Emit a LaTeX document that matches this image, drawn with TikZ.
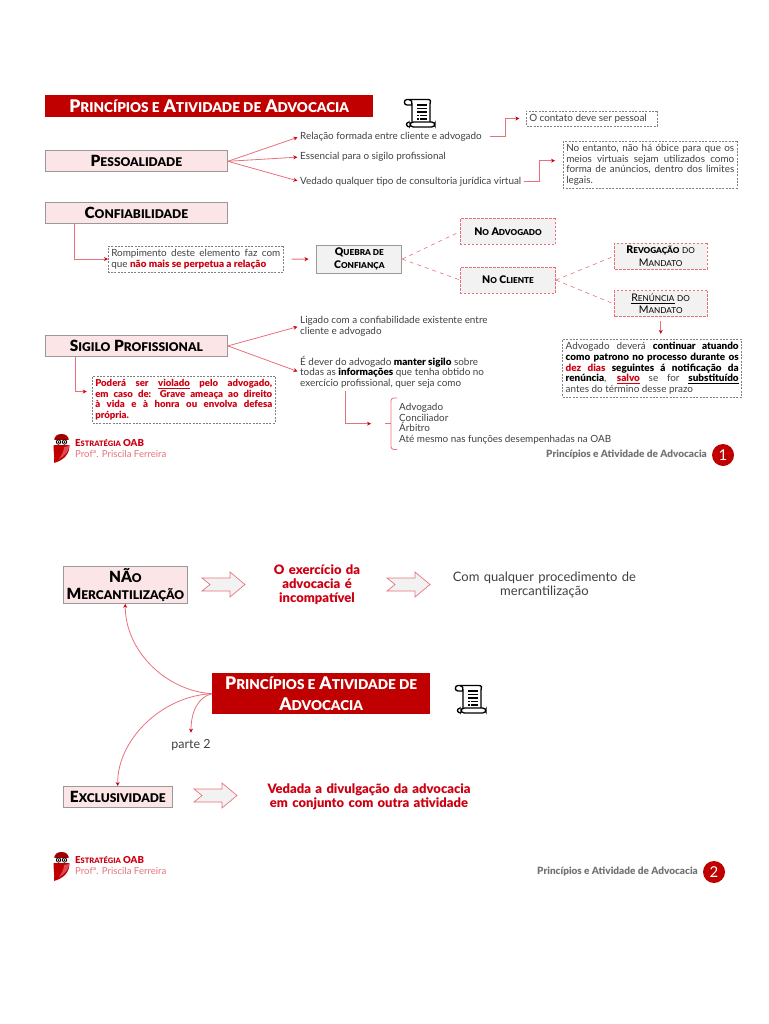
\documentclass[tikz,border=0pt]{standalone}
\usepackage{fontspec}
\usepackage{xcolor}
\setmainfont{Lato}[BoldFont={Lato Black}]
\usetikzlibrary{arrows.meta, positioning}

\definecolor{oabred}{HTML}{C00000}
\definecolor{textred}{HTML}{CC0011}
\definecolor{softred}{HTML}{E8707A}
\definecolor{pinkfill}{HTML}{FBE5E6}
\definecolor{greyfill}{HTML}{F2F2F2}
\definecolor{bodygrey}{HTML}{404040}
\newcommand{\low}[1]{\scalebox{0.78}{#1}}
\newcommand{\fsbody}{\fontsize{9.9}{10.6}\selectfont\color{bodygrey}}

\begin{document}
\begin{tikzpicture}[
    x=1pt, y=-1pt,
    scale=0.75,
    transform shape,
    base/.style={align=center, inner sep=0pt},
    titlebar/.style={base, fill=oabred, text=white, font=\bfseries\fontsize{17.4}{20.5}\selectfont},
    headbox/.style={base, draw=black!40, line width=0.8pt, fill=pinkfill, minimum height=21pt, font=\bfseries\fontsize{15.4}{16.5}\selectfont},
    greybox/.style={base, draw=black!40, line width=0.7pt, fill=greyfill, minimum width=85pt, minimum height=28pt, font=\bfseries\fontsize{10.5}{13}\selectfont},
    subbox/.style={base, draw=softred, dash pattern=on 2pt off 1pt, line width=0.6pt, fill=greyfill, minimum width=95pt, minimum height=26pt, font=\fontsize{10.5}{12.5}\selectfont},
    notebox/.style={draw=black!50, dash pattern=on 1.5pt off 1pt, line width=0.5pt, inner sep=3pt, align=justify, font=\fsbody},
    plain/.style={inner sep=0pt, align=left, font=\fsbody},
    redtext/.style={inner sep=0pt, align=center, text=textred, font=\bfseries\fontsize{13}{14}\selectfont},
    brand/.style={inner sep=0pt, anchor=west, text=textred, font=\bfseries\fontsize{9.6}{11}\selectfont},
    footer/.style={inner sep=0pt, anchor=east, text=black!55, font=\bfseries\fontsize{10}{11}\selectfont},
    badge/.style={circle, fill=oabred, text=white, inner sep=0pt, minimum size=22pt, font=\fontsize{15}{15}\selectfont},
    link/.style={draw=softred, line width=0.6pt},
    arrow/.style={link, -{Stealth[length=3pt, width=3pt, color=textred]}},
    dashlink/.style={draw=softred, line width=0.45pt, dashed},
    pics/blockarrow/.style={code={
        \draw [softred, line width=0.5pt, fill=greyfill] (0,6) -- (28,6) -- (28,0) -- (43,12.5) -- (28,25) -- (28,19) -- (0,19) -- (8,12.5) -- cycle;
    }},
    pics/scrollicon/.style={code={
        \draw [black, line width=1pt, line join=round, fill=white] (8,6) -- (8,24) (3,0.5) -- (24,0.5) .. controls (27,0.5) and (27,3) .. (26,5) .. controls (25,7) and (27,9) .. (26,12) -- (26,23);
        \draw [black, line width=1pt] (3,0.5) .. controls (-0.5,0.5) and (-0.5,6) .. (3,6) -- (8,6) (5,0.5) .. controls (8,0.5) and (8,3) .. (8,6);
        \draw [black, line width=1pt, rounded corners=2.5pt, fill=white] (6,23) rectangle (31,28);
        \draw [black, line width=1pt] (5,23) .. controls (1,24) and (2,28) .. (6,28);
        \draw [black, line width=1pt] (13,6) -- (23,6) (13,9.5) -- (23,9.5) (13,13) -- (23,13) (16,16.5) -- (23,16.5) (13,16.5) -- (14.5,16.5) (16,20) -- (23,20) (13,20) -- (14.5,20);
    }},
    pics/owlicon/.style={code={
        \fill [oabred] (0.5,10) -- (16.5,10) .. controls (17,20) and (11,26) .. (1,29) .. controls (2,22) and (0,16) .. (0.5,10) -- cycle;
        \fill [textred!70!white] (11,13) .. controls (14,13) and (15,12) .. (16.5,11) .. controls (16,17) and (12,22) .. (6,25) .. controls (9,21) and (11,17) .. (11,13) -- cycle;
        \fill [oabred!85!black] (1,8) .. controls (1,2) and (4,0) .. (8.5,0) .. controls (13,0) and (16,2) .. (16,8) -- cycle;
        \fill [white] (0,5.5) rectangle (17,10.5);
        \draw [black, fill=white, line width=0.6pt] (5.5,8) circle (2.2) (11.5,8) circle (2.2);
        \fill [black] (5.5,8) circle (1) (11.5,8) circle (1);
    }}
]
    \useasboundingbox (0,0) rectangle (768,1024);

    % primeira pagina
    \node [titlebar, minimum width=328pt, minimum height=22pt, anchor=north west] (title) at (45,95) {P\low{RINCÍPIOS E} A\low{TIVIDADE DE} A\low{DVOCACIA}};
    \pic at (404,99) {scrollicon};

    \node [headbox, minimum width=182pt, below=33pt of title.south west, anchor=north west] (pess) {P\low{ESSOALIDADE}};
    \node [headbox, minimum width=182pt, below=30pt of pess] (conf) {C\low{ONFIABILIDADE}};
    \node [headbox, minimum width=182pt, below=111pt of conf] (sigilo) {S\low{IGILO} P\low{ROFISSIONAL}};

    \node [plain, anchor=west] (rel) at (300,136.5) {Relação formada entre cliente e advogado};
    \node [plain, anchor=west] (ess) at (300,157) {Essencial para o sigilo profissional};
    \node [plain, anchor=west] (ved) at (300,181.5) {Vedado qualquer tipo de consultoria jurídica virtual};
    \node [notebox, text width=125pt, minimum height=15pt, anchor=west] (contato) at (526,118.5) {O contato deve ser pessoal};
    \node [notebox, text width=168pt, anchor=north west] (virtual) at (563,141) {No entanto, não há óbice para que os\linebreak meios virtuais sejam utilizados como\linebreak forma de anúncios, dentro dos limites\linebreak legais.};

    \node [notebox, text width=169pt, below right=22pt and 63pt of conf.south west] (rompe) {Rompimento deste elemento faz com\linebreak que \textcolor{textred}{\textbf{não mais se perpetua a relação}}};
    \node [greybox, right=33pt of rompe] (quebra) {Q\low{UEBRA DE}\\C\low{ONFIANÇA}};
    \node [subbox, above right=0pt and 58pt of quebra.north east] (noadv) {\textbf{N\low{O} A\low{DVOGADO}}};
    \node [subbox, below=22pt of noadv] (nocli) {\textbf{N\low{O} C\low{LIENTE}}};
    \node [subbox, minimum width=93pt, above right=10.5pt and 58pt of nocli.east] (revog) {\textbf{R\low{EVOGAÇÃO}} \low{DO}\\M\low{ANDATO}};
    \node [subbox, minimum width=93pt, below=21pt of revog] (renun) {\underline{R\low{ENÚNCIA}} \low{DO}\\M\low{ANDATO}};
    \node [notebox, text width=173pt, below=22pt of renun, xshift=-8.5pt] (dever) {Advogado deverá \textbf{\textcolor{black}{continuar atuando}}\linebreak \textbf{\textcolor{black}{como patrono no processo durante os}}\linebreak \textbf{\textcolor{textred}{dez dias} \textcolor{black}{seguintes á notificação da}}\linebreak \textbf{\textcolor{black}{renúncia}}, \textcolor{textred}{\textbf{\underline{salvo}}} se for \textbf{\textcolor{black}{\underline{substituído}}}\linebreak antes do término desse prazo};

    \node [plain, anchor=north west] (ligado) at (300,316) {Ligado com a confiabilidade existente entre\\cliente e advogado};
    \node [plain, anchor=north west] (sigilodever) at (300,356) {É dever do advogado \textbf{\textcolor{black}{manter sigilo}} sobre\\todas as \textbf{\textcolor{black}{informações}} que tenha obtido no\\exercício profissional, quer seja como};
    \node [plain, minimum height=51pt, anchor=north west] (lista) at (399,398) {Advogado\\Conciliador\\Árbitro\\Até mesmo nas funções desempenhadas na OAB};
    \node [notebox, text width=177pt, anchor=north west, text=textred, font=\bfseries\fontsize{9.6}{10.6}\selectfont] (violado) at (92,376) {Poderá ser \underline{violado} pelo advogado,\linebreak em caso de: Grave ameaça ao direito\linebreak à vida e à honra ou envolva defesa\linebreak própria.};

    \draw [arrow, shorten >=2pt] (pess.east) -- (rel.west);
    \draw [arrow, shorten >=2pt] (pess.east) -- (ess.west);
    \draw [arrow, shorten >=2pt] (pess.east) -- (ved.west);
    \draw [arrow, shorten <=6pt, shorten >=5pt] (rel.east) -- ++(23,0) |- (contato.west);
    \draw [arrow, shorten <=2pt, shorten >=6pt] (ved.east) -- ++(18,0) |- ([yshift=4pt]virtual.west);
    \draw [arrow] ([xshift=29pt]conf.south west) |- (rompe.west);
    \draw [arrow, shorten <=6pt, shorten >=6pt] (rompe.east) -- (quebra.west);
    \draw [dashlink] (quebra.east) -- (noadv.west);
    \draw [dashlink] (quebra.east) -- (nocli.west);
    \draw [dashlink] (nocli.east) -- (revog.west);
    \draw [dashlink] (nocli.east) -- (renun.west);
    \draw [arrow, shorten <=3pt, shorten >=4pt] (renun.south) -- (renun.south |- dever.north);
    \draw [arrow, shorten >=2pt] (sigilo.east) -- (ligado.west);
    \draw [arrow, shorten >=2pt] (sigilo.east) -- (sigilodever.west);
    \draw [arrow, shorten >=4pt] ([xshift=30pt]sigilo.south west) |- ([yshift=8pt]violado.west);
    \draw [arrow, shorten <=2pt, shorten >=21pt] ([xshift=45pt]sigilodever.south west) |- (lista.west);
    \draw [link] ([xshift=-14pt]lista.west) -- ([xshift=-8pt]lista.west);
    \draw [link, rounded corners=2pt] ([xshift=-2pt]lista.north west) -- ([xshift=-8pt]lista.north west) -- ([xshift=-8pt]lista.south west) -- ([xshift=-2pt]lista.south west);

    \pic at (53,434) {owlicon};
    \node [brand] (marca) at (75,443) {E\low{STRATÉGIA} OAB};
    \node [brand, text=softred, font=\fontsize{9.6}{11}\selectfont] (prof) at (75,453.5) {Profª. Priscila Ferreira};
    \node [footer] (rodape) at (707,455) {Princípios e Atividade de Advocacia};
    \node [badge] (pagina) at (723,455) {1};

    % segunda pagina
    \node [headbox, minimum width=124pt, minimum height=37pt, anchor=north west] (nao) at (63,566) {NÃ\low{O}\\M\low{ERCANTILIZAÇÃO}};
    \node [redtext, text width=90pt, right=84pt of nao] (exerc) {O exercício da\\advocacia é\\incompatível};
    \node [plain, text width=190pt, align=center, right=87pt of exerc, font=\fontsize{13}{14}\selectfont\color{bodygrey}] (proced) {Com qualquer procedimento de\\mercantilização};
    \pic at (202,572) {blockarrow};
    \pic at (387,572) {blockarrow};

    \node [titlebar, minimum width=218pt, minimum height=41pt, anchor=north west] (titulo) at (212,673) {P\low{RINCÍPIOS E} A\low{TIVIDADE DE}\\A\low{DVOCACIA}};
    \pic at (455,685) {scrollicon};
    \node [plain, font=\fontsize{12.5}{14}\selectfont\color{bodygrey}] (parte) at (191,745) {parte 2};

    \node [headbox, minimum width=109pt, anchor=north west] (exclus) at (63,786) {E\low{XCLUSIVIDADE}};
    \node [redtext, text width=220pt, right=86pt of exclus] (vedada) {Vedada a divulgação da advocacia\\em conjunto com outra atividade};
    \pic at (194,783) {blockarrow};

    \draw [arrow] (titulo.west) .. controls +(-47,-3) and (125,650) .. (nao);
    \draw [arrow] (titulo.west) .. controls +(-50,2) and (117,740) .. (exclus);
    \draw [arrow, shorten >=5pt] (titulo.west) .. controls +(-14,3) and (191,712) .. (parte.north);

    \pic at (53,852) {owlicon};
    \node [brand] (marcab) at (75,860) {E\low{STRATÉGIA} OAB};
    \node [brand, text=softred, font=\fontsize{9.6}{11}\selectfont] (profb) at (75,870.5) {Profª. Priscila Ferreira};
    \node [footer] (rodapeb) at (698,872) {Princípios e Atividade de Advocacia};
    \node [badge] (paginab) at (714,872) {2};

\end{tikzpicture}
\end{document}
